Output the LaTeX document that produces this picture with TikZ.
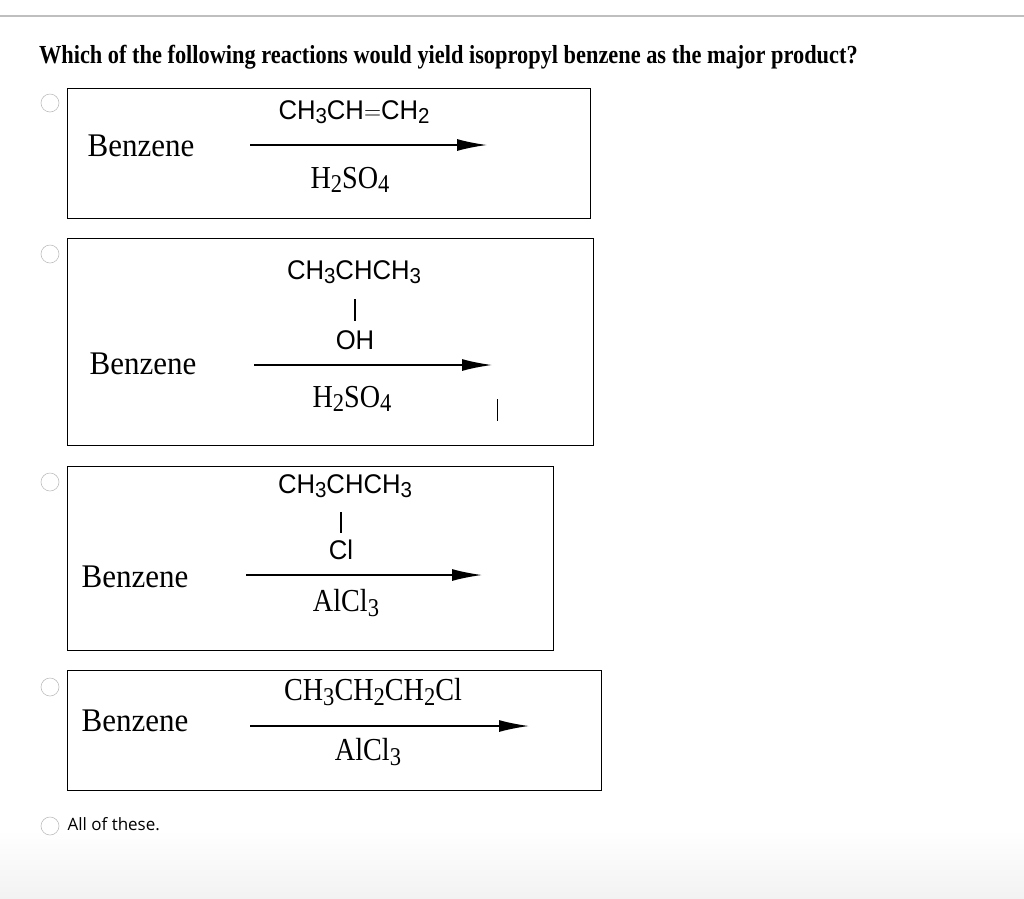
\documentclass[tikz,border=0pt]{standalone}
\usetikzlibrary{arrows.meta}
\usepackage{fontspec}
\setmainfont{Liberation Serif}
\setsansfont{Liberation Sans}
\newfontfamily\ui{Open Sans}
\newcommand\sbs[1]{\raisebox{-0.3ex}{\scalebox{0.8}{#1}}}
\begin{document}
\begin{tikzpicture}[x=1pt,y=-1pt,
  box/.style={draw,line width=1pt},
  radio/.style={draw=gray!50,line width=0.6pt,fill=white},
  arr/.style={line width=1.6pt,-{Latex[length=30pt,width=12pt]}},
  bond/.style={line width=1.2pt},
  bz/.style={font=\fontsize{33}{36}\selectfont,xscale=0.94},
  ch/.style={font=\sffamily\fontsize{27}{30}\selectfont,xscale=0.95},
  sr/.style={font=\fontsize{32}{34}\selectfont,xscale=0.88}]
\useasboundingbox (0,0) rectangle (1024,898);
\shade[top color=white,bottom color=gray!10] (0,830) rectangle (1024,898);
\draw[gray!50,line width=1.2pt] (0,16) -- (1024,16);
\node[anchor=west,font=\bfseries\fontsize{26}{28}\selectfont,xscale=0.86] (q) at (36,57) {Which of the following reactions would yield isopropyl benzene as the major product?};
% box 1
\draw[radio] (50,103) circle (9);
\draw[box] (67,88) rectangle (590,218);
\node[bz] (b1) at (141,146) {Benzene};
\coordinate (a1s) at (250,145); \coordinate (a1e) at (487,145);
\draw[arr] (a1s) -- (a1e);
\node[ch] (r1) at (354,112) {CH\sbs{3}CH${=}$CH\sbs{2}};
\node[sr] (s1) at (350,180) {H\sbs{2}SO\sbs{4}};
% box 2
\draw[radio] (50,254) circle (9);
\draw[box] (67,238) rectangle (593,445);
\node[bz] (b2) at (143,364) {Benzene};
\coordinate (a2s) at (254,365); \coordinate (a2e) at (492,365);
\draw[arr] (a2s) -- (a2e);
\node[ch] (r2) at (354,272) {CH\sbs{3}CHCH\sbs{3}};
\node[ch] (o2) at (355,340) {OH};
\coordinate (p2) at (355,299); \coordinate (q2) at (355,321);
\draw[bond] (p2) -- (q2);
\node[sr] (s2) at (352,399) {H\sbs{2}SO\sbs{4}};
\coordinate (v1) at (497,399); \coordinate (v2) at (497,421);
\draw[line width=1pt] (v1) -- (v2);
% box 3
\draw[radio] (50,482) circle (9);
\draw[box] (67,466) rectangle (553,650);
\node[bz] (b3) at (135,577) {Benzene};
\coordinate (a3s) at (246,575); \coordinate (a3e) at (482,575);
\draw[arr] (a3s) -- (a3e);
\node[ch] (r3) at (345,486) {CH\sbs{3}CHCH\sbs{3}};
\node[ch] (o3) at (341,550) {Cl};
\coordinate (p3) at (341,512); \coordinate (q3) at (341,533);
\draw[bond] (p3) -- (q3);
\node[sr] (s3) at (346,603) {AlCl\sbs{3}};
% box 4
\draw[radio] (50,687) circle (9);
\draw[box] (67,670) rectangle (601,790);
\node[bz] (b4) at (135,721) {Benzene};
\coordinate (a4s) at (250,726); \coordinate (a4e) at (529,726);
\draw[arr] (a4s) -- (a4e);
\node[sr] (r4) at (373,692) {CH\sbs{3}CH\sbs{2}CH\sbs{2}Cl};
\node[sr] (s4) at (368,752) {AlCl\sbs{3}};
% all
\draw[radio] (50,826) circle (9);
\node[anchor=west,font=\ui\fontsize{17}{20}\selectfont] (all) at (64,824) {All of these.};
\end{tikzpicture}
\end{document}
